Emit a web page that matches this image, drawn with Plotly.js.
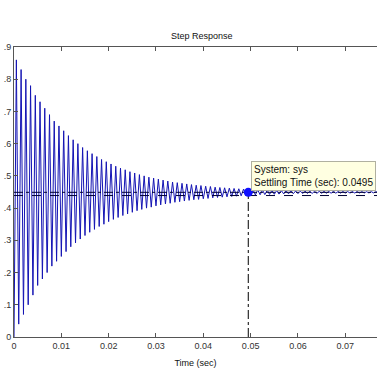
<!DOCTYPE html>
<html>
<head>
<meta charset="utf-8">
<script src="https://cdn.plot.ly/plotly-3.0.1.min.js"></script>
<style>html,body{margin:0;padding:0;background:#fff;}#chart{width:377px;height:377px;}</style>
</head>
<body>
<div id="chart"></div>
<script>
// Time samples (sec) at the peaks/troughs of the response
var timeSec = [
  0, 0.0005, 0.001, 0.0015, 0.002, 0.0025, 0.003, 0.0035, 0.004, 0.0045,
  0.005, 0.0055, 0.006, 0.0065, 0.007, 0.0075, 0.008, 0.0085, 0.009, 0.0095,
  0.010, 0.0105, 0.011, 0.0115, 0.012, 0.0125, 0.013, 0.0135, 0.014, 0.0145,
  0.015, 0.0155, 0.016, 0.0165, 0.017, 0.0175, 0.018, 0.0185, 0.019, 0.0195,
  0.020, 0.0205, 0.021, 0.0215, 0.022, 0.0225, 0.023, 0.0235, 0.024, 0.0245,
  0.025, 0.0255, 0.026, 0.0265, 0.027, 0.0275, 0.028, 0.0285, 0.029, 0.0295,
  0.030, 0.0305, 0.031, 0.0315, 0.032, 0.0325, 0.033, 0.0335, 0.034, 0.0345,
  0.035, 0.0355, 0.036, 0.0365, 0.037, 0.0375, 0.038, 0.0385, 0.039, 0.0395,
  0.040, 0.0405, 0.041, 0.0415, 0.042, 0.0425, 0.043, 0.0435, 0.044, 0.0445,
  0.045, 0.0455, 0.046, 0.0465, 0.047, 0.0475, 0.048, 0.0485, 0.049, 0.0495,
  0.050, 0.0505, 0.051, 0.0515, 0.052, 0.0525, 0.053, 0.0535, 0.054, 0.0545,
  0.055, 0.0555, 0.056, 0.0565, 0.057, 0.0575, 0.058, 0.0585, 0.059, 0.0595,
  0.060, 0.0605, 0.061, 0.0615, 0.062, 0.0625, 0.063, 0.0635, 0.064, 0.0645,
  0.065, 0.0655, 0.066, 0.0665, 0.067, 0.0675, 0.068, 0.0685, 0.069, 0.0695,
  0.070, 0.0705, 0.071, 0.0715, 0.072, 0.0725, 0.073, 0.0735, 0.074, 0.0745,
  0.075, 0.0755, 0.076, 0.0765, 0.077
];
// Step response amplitude
var amplitude = [
  0, 0.86, 0.04, 0.83, 0.07, 0.80, 0.10, 0.78, 0.13, 0.75,
  0.16, 0.73, 0.18, 0.71, 0.20, 0.69, 0.22, 0.67, 0.235, 0.655,
  0.25, 0.64, 0.265, 0.625, 0.28, 0.612, 0.292, 0.60, 0.304, 0.588,
  0.315, 0.578, 0.325, 0.569, 0.334, 0.56, 0.343, 0.551, 0.35, 0.544,
  0.358, 0.537, 0.365, 0.53, 0.371, 0.524, 0.377, 0.519, 0.382, 0.513,
  0.387, 0.509, 0.392, 0.504, 0.396, 0.50, 0.40, 0.496, 0.403, 0.493,
  0.407, 0.49, 0.41, 0.487, 0.413, 0.484, 0.415, 0.481, 0.418, 0.479,
  0.42, 0.477, 0.422, 0.475, 0.424, 0.473, 0.426, 0.471, 0.427, 0.47,
  0.429, 0.468, 0.43, 0.467, 0.432, 0.465, 0.433, 0.464, 0.434, 0.463,
  0.435, 0.462, 0.436, 0.461, 0.437, 0.46, 0.438, 0.459, 0.439, 0.458,
  0.440, 0.457, 0.441, 0.4565, 0.4415, 0.456, 0.442, 0.4555, 0.4425, 0.455,
  0.443, 0.4545, 0.4435, 0.454, 0.444, 0.4537, 0.4443, 0.4534, 0.4446, 0.4531,
  0.4449, 0.4528, 0.4452, 0.4526, 0.4454, 0.4524, 0.4456, 0.4522, 0.4458, 0.452,
  0.446, 0.4518, 0.4462, 0.4517, 0.4463, 0.4516, 0.4464, 0.4515, 0.4465, 0.4514,
  0.4466, 0.4513, 0.4467, 0.4512, 0.4468, 0.4511, 0.4469, 0.451, 0.447, 0.451,
  0.4471, 0.4509, 0.4472, 0.4509, 0.4473
];
var xRange = [0, 0.0767];
var yRange = [0, 0.9];
var steadyState = 0.449;
var lowerLine = 0.439;
var settlingTime = 0.0495;
var settlingValue = 0.449;
var yTickVals = [0, 0.1, 0.2, 0.3, 0.4, 0.5, 0.6, 0.7, 0.8, 0.9];
var yTickText = ["0", ".1", ".2", ".3", ".4", ".5", ".6", ".7", ".8", ".9"];
var xTickVals = [0, 0.01, 0.02, 0.03, 0.04, 0.05, 0.06, 0.07];
var xTickText = ["0", "0.01", "0.02", "0.03", "0.04", "0.05", "0.06", "0.07"];

var font = "Liberation Sans, Arial, sans-serif";

var traces = [
  {x: timeSec, y: amplitude, type: "scatter", mode: "lines",
   line: {color: "#1414b4", width: 1}, hoverinfo: "skip"},
  {x: xRange, y: [steadyState, steadyState], mode: "lines",
   line: {color: "#000033", width: 1, dash: "dashdot"}, hoverinfo: "skip"},
  {x: xRange, y: [lowerLine, lowerLine], mode: "lines",
   line: {color: "#000033", width: 1, dash: "dash"}, hoverinfo: "skip"},
  {x: [settlingTime, settlingTime], y: [0, settlingValue], mode: "lines",
   line: {color: "#000000", width: 1, dash: "dashdot"}, hoverinfo: "skip"},
  {x: [settlingTime], y: [settlingValue], mode: "markers",
   marker: {color: "#1010ff", size: 9}, hoverinfo: "skip"}
];

var layout = {
  width: 377, height: 377,
  margin: {l: 14, r: 0, t: 47, b: 40, pad: 0},
  paper_bgcolor: "#ffffff", plot_bgcolor: "#ffffff",
  showlegend: false,
  font: {family: font, size: 9, color: "#222"},
  title: {text: "Step Response", font: {family: font, size: 9, color: "#111"},
          x: 0.535, xanchor: "center", y: 0.905, yanchor: "middle", yref: "container"},
  xaxis: {range: xRange, tickvals: xTickVals, ticktext: xTickText,
          showgrid: false, zeroline: false, showline: true, linecolor: "#555", linewidth: 1,
          mirror: "ticks", ticks: "inside", ticklen: 4, tickcolor: "#555",
          tickfont: {family: font, size: 9, color: "#333"},
          title: {text: "Time (sec)", font: {family: font, size: 9, color: "#111"}, standoff: 9}},
  yaxis: {range: yRange, tickvals: yTickVals, ticktext: yTickText,
          showgrid: false, zeroline: false, showline: true, linecolor: "#555", linewidth: 1,
          mirror: false, ticks: "inside", ticklen: 4, tickcolor: "#555",
          tickfont: {family: font, size: 9, color: "#333"}},
  annotations: [{
    x: 0.0500, y: 0.546, xref: "x", yref: "y", xanchor: "left", yanchor: "top",
    showarrow: false, align: "left",
    text: "System: sys<br>Settling Time (sec): 0.0495",
    font: {family: font, size: 10, color: "#111"},
    bgcolor: "#ffffe1", bordercolor: "#b0b0a0", borderwidth: 1, borderpad: 2
  }]
};

Plotly.newPlot("chart", traces, layout, {displayModeBar: false, staticPlot: true});
</script>
</body>
</html>
